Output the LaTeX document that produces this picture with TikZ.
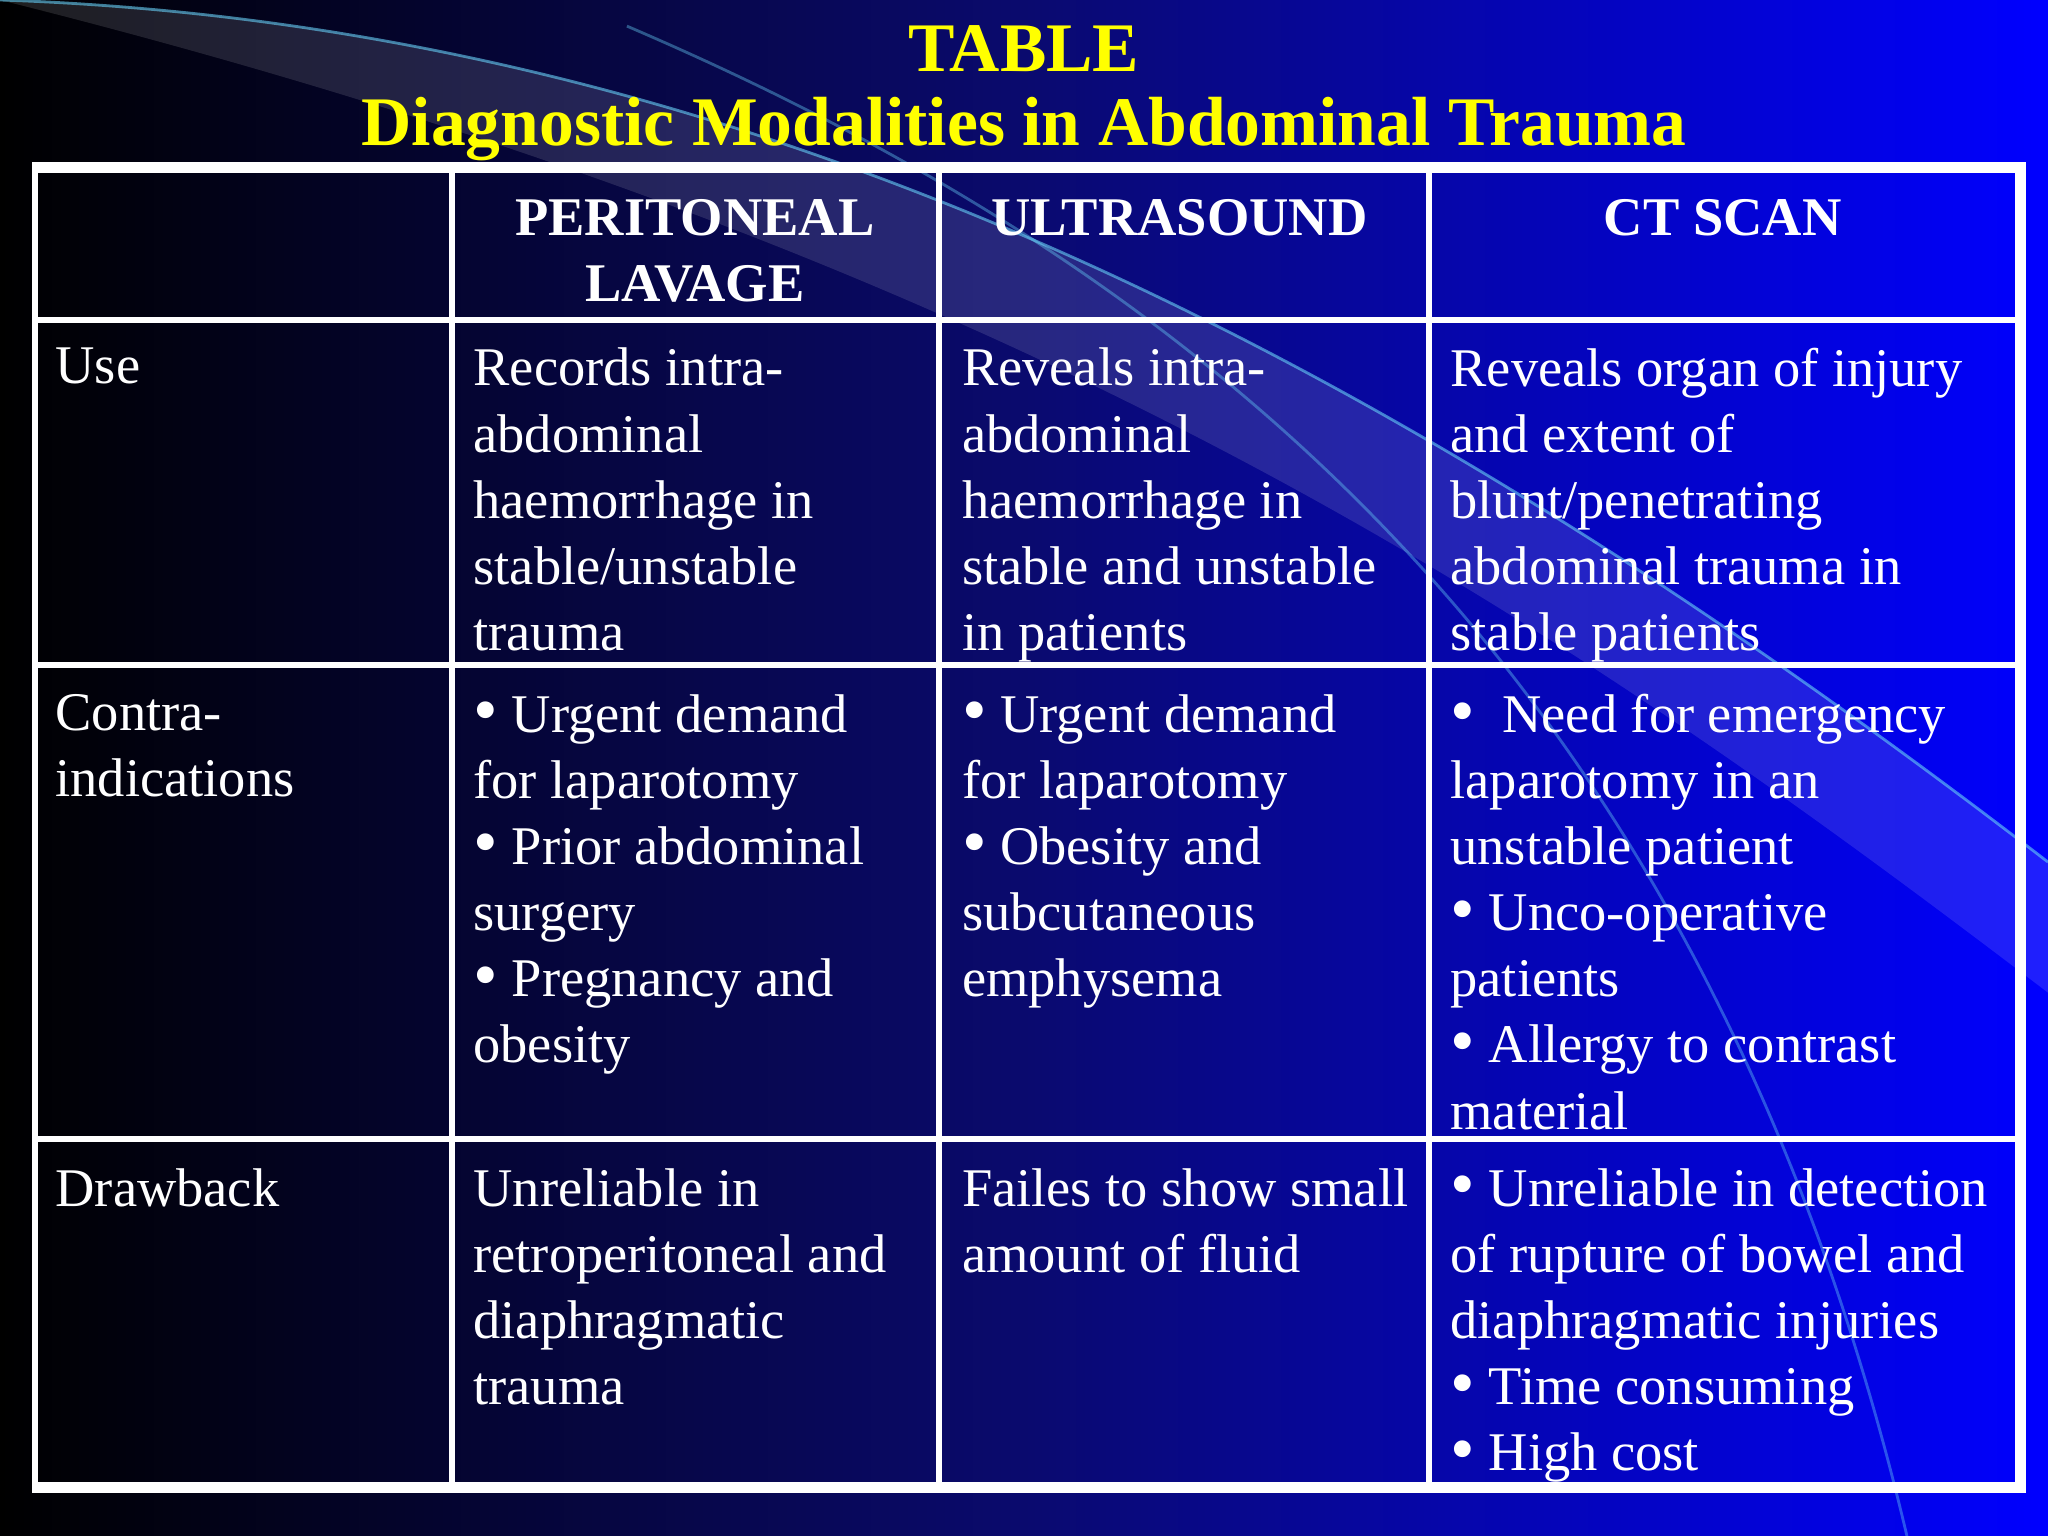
\documentclass[tikz,border=0pt]{standalone}
\usepackage{fontspec}
\setmainfont{Liberation Serif}
\usetikzlibrary{calc}
\definecolor{slideblue}{RGB}{0,0,255}
\definecolor{navy}{RGB}{10,10,110}
\definecolor{titleyellow}{RGB}{255,255,0}
\newcommand{\bul}{{\fontsize{20pt}{18.8pt}\selectfont\raisebox{-0.5pt}{•}}}
\tikzset{
  cell/.style={ % text of a body cell
    anchor=north west, inner sep=0pt, align=left, text=white,
    font=\fontsize{15.5pt}{18.8pt}\selectfont
  },
  head/.style={ % column heading
    anchor=north, inner sep=0pt, align=center, text=white,
    font=\fontsize{15.5pt}{18.8pt}\selectfont\bfseries
  },
  title/.style={
    inner sep=0pt, text=titleyellow, font=\fontsize{19.8pt}{23pt}\selectfont\bfseries
  },
  grid/.style={white, line width=1.6pt}
}
\begin{document}
\begin{tikzpicture}[x=0.01306cm, y=-0.01306cm]
  \useasboundingbox (0,0) rectangle (1568,1176);
  % background
  \shade[left color=black, right color=slideblue, middle color=navy] (0,0) rectangle (1568,1176);
  \fill[white, opacity=0.12] (0,0) .. controls (600,20) and (1100,300) .. (1568,660)
    -- (1568,760) .. controls (1200,480) and (800,200) .. (0,0) -- cycle;
  \draw[cyan!60!white, opacity=0.6, line width=0.8pt] (0,0) .. controls (600,20) and (1100,300) .. (1568,660);
  \draw[cyan!60!white, opacity=0.4, line width=0.8pt] (480,20) .. controls (900,200) and (1300,500) .. (1460,1176);

  % title
  \node[title] (t1) at (784,37) {TABLE};
  \node[title] (t2) at (784,99) {Diagnostic Modalities in Abdominal Trauma};

  % grid
  \draw[grid] (27,130) rectangle (1545,1137);
  \draw[grid] (27,126) rectangle (1549,1141);
  \foreach \x in {346,719,1094} \draw[grid] (\x,130) -- (\x,1137);
  \foreach \y in {245,509,872} \draw[grid] (27,\y) -- (1545,\y);

  % headings
  \node[head] (hpl) at (532,152) {PERITONEAL\\LAVAGE};
  \node[head] (hus) at (903,152) {ULTRASOUND};
  \node[head] (hct) at (1319,152) {CT SCAN};

  % row: use
  \node[cell] (use) at (42,266) {Use};
  \node[cell] (usepl) at (362,266) {Records intra-\\abdominal\\haemorrhage in\\stable/unstable\\trauma};
  \node[cell] (useus) at (736,266) {Reveals intra-\\abdominal\\haemorrhage in\\stable and unstable\\in patients};
  \node[cell] (usect) at (1110,266) {Reveals organ of injury\\and extent of\\blunt/penetrating\\abdominal trauma in\\stable patients};

  % row: contra-indications
  \node[cell] (ci) at (42,531) {Contra-\\indications};
  \node[cell] (cipl) at (362,531) {\bul{} Urgent demand\\for laparotomy\\\bul{} Prior abdominal\\surgery\\\bul{} Pregnancy and\\obesity};
  \node[cell] (cius) at (736,531) {\bul{} Urgent demand\\for laparotomy\\\bul{} Obesity and\\subcutaneous\\emphysema};
  \node[cell] (cict) at (1110,531) {\bul\ \ Need for emergency\\laparotomy in an\\unstable patient\\\bul{} Unco-operative\\patients\\\bul{} Allergy to contrast\\material};

  % row: drawback
  \node[cell] (db) at (42,894) {Drawback};
  \node[cell] (dbpl) at (362,894) {Unreliable in\\retroperitoneal and\\diaphragmatic\\trauma};
  \node[cell] (dbus) at (736,894) {Failes to show small\\amount of fluid};
  \node[cell] (dbct) at (1110,894) {\bul{} Unreliable in detection\\of rupture of bowel and\\diaphragmatic injuries\\\bul{} Time consuming\\\bul{} High cost};
\end{tikzpicture}
\end{document}
